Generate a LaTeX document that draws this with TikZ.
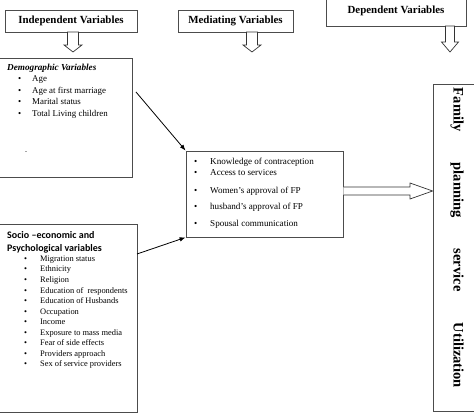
\documentclass[tikz,border=0pt]{standalone}
\usepackage{fontspec}
\setmainfont{Liberation Serif}
\newfontfamily\calib{Carlito}
\usetikzlibrary{arrows.meta,calc}
\newcommand\hdown[6]{%
  \draw[hollow] (#1-#5,#2) -- (#1-#5,#3) -- (#1-#6,#3) -- (#1,#4) -- (#1+#6,#3) -- (#1+#5,#3) -- (#1+#5,#2) -- cycle;}
\begin{document}
\begin{tikzpicture}[x=1pt,y=-1pt,
  box/.style={draw=black!70,line width=0.8pt,inner sep=0pt},
  hdr/.style={font=\fontsize{10.9}{12}\selectfont\bfseries},
  itm/.style={anchor=base west,inner sep=0pt},
  demo/.style={itm,font=\fontsize{8.9}{10}\selectfont},
  soci/.style={itm,font=\fontsize{8.4}{9}\selectfont},
  medi/.style={itm,font=\fontsize{9.1}{10}\selectfont},
  sochdr/.style={itm,font=\calib\fontsize{10}{11}\selectfont\bfseries},
  hollow/.style={draw=black!80,line width=0.7pt,fill=white,line join=miter},
  link/.style={draw=black,line width=0.8pt,-{Latex[length=6pt,width=4.5pt]}}]
\useasboundingbox (0,0) rectangle (474,414);
% top header boxes
\node[box,hdr,minimum width=132pt,minimum height=22pt] (ind) at (71,21) {Independent Variables};
\node[box,hdr,minimum width=115pt,minimum height=22pt] (medh) at (235.5,21) {Mediating Variables};
\node[box,hdr,minimum width=140pt,minimum height=31pt] (dep) at (396,11) {Dependent Variables};
% hollow down arrows
\hdown{73}{32}{45}{52}{5.5}{9}
\hdown{252}{32}{45}{52}{5.5}{9}
\hdown{450}{26}{42}{52}{4.5}{8.5}
% demographic box
\node[box,minimum width=137pt,minimum height=119pt] (demob) at (63.5,117.5) {};
\node[itm,font=\fontsize{9.2}{10}\selectfont\bfseries\itshape] (demoh) at (7,71) {Demographic Variables};
\foreach \y/\t [count=\i] in {81.5/Age,93.5/Age at first marriage,105/Marital status,117/Total Living children}
  \node[demo] (d\i) at (18,\y) {\makebox[14pt][l]{\textbullet}\t};
\node[inner sep=0pt,font=\fontsize{6}{6}\selectfont] (dash) at (26,153) {-};
% socio box
\node[box,minimum width=142pt,minimum height=188pt] (socb) at (66,318) {};
\node[sochdr] (soch1) at (7,239) {Socio –economic and};
\node[sochdr] (soch2) at (7,251.5) {Psychological variables};
\foreach \y/\t [count=\i] in {261.5/Migration status,272/Ethnicity,282.5/Religion,293/Education of\ \ respondents,303.5/Education of Husbands,314/Occupation,324.5/Income,335/Exposure to mass media,345.5/Fear of side effects,356/Providers approach,366.5/Sex of service providers}
  \node[soci] (s\i) at (24,\y) {\makebox[16pt][l]{\textbullet}\t};
% mediating box
\node[box,minimum width=157pt,minimum height=86pt] (med) at (264.5,194) {};
\foreach \y/\t [count=\i] in {164.5/Knowledge of contraception,175.5/Access to services,193.5/Women’s approval of FP,209.5/husband’s approval of FP,226.5/Spousal communication}
  \node[medi] (m\i) at (194,\y) {\makebox[16pt][l]{\textbullet}\t};
% dependent box
\node[box,minimum width=47pt,minimum height=327pt] (fp) at (456.5,247.5) {};
\node[rotate=-90,inner sep=0pt,font=\fontsize{14.5}{16}\selectfont\bfseries] (fpt) at (457,238) {\makebox[300pt][s]{Family planning service Utilization}};
% black arrows
\coordinate (a1s) at (136,92);
\coordinate (a2s) at (137,254);
\draw[link] (a1s) -- (med.north west);
\draw[link] (a2s) -- (med.south west);
% big hollow arrow
\draw[hollow] (med.east |- 0,187) -- (410,187) -- (410,183) -- (fp.west |- 0,191) -- (410,199) -- (410,195) -- (med.east |- 0,195);
\end{tikzpicture}
\end{document}
